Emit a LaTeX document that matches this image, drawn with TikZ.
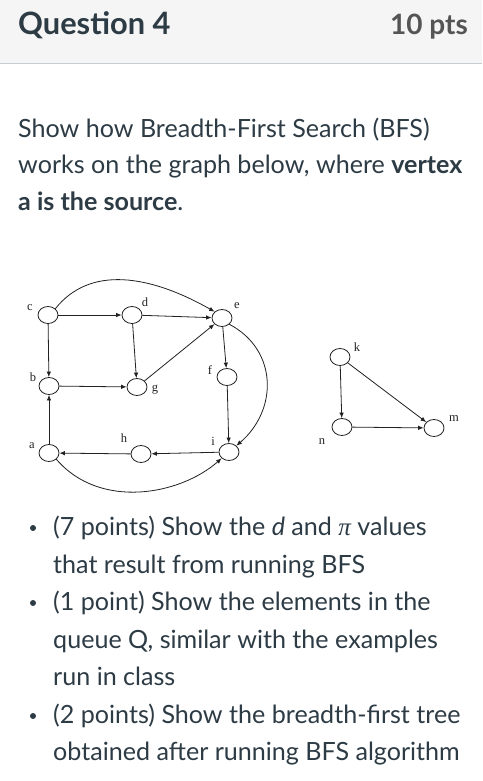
\documentclass[tikz,border=0pt]{standalone}
\usepackage{fontspec}
\setmainfont{Lato}
\newfontfamily\serifg{Liberation Serif}
\usetikzlibrary{shapes.geometric,arrows.meta}
\definecolor{txt}{HTML}{2D3B45}
\definecolor{hdrbg}{HTML}{F5F5F5}
\definecolor{hdrrule}{HTML}{C7CDD1}
\definecolor{pts}{HTML}{555555}
\definecolor{gline}{HTML}{222222}
\tikzset{
  body/.style={anchor=base west, inner sep=0pt, text=txt, font=\fontsize{25.1}{25.1}\selectfont},
  bul/.style={circle, fill=txt, inner sep=0pt, minimum size=6pt},
  vtx/.style={ellipse, draw=gline, line width=0.8pt, minimum width=20pt, minimum height=17pt, inner sep=0pt},
  lbl/.style={inner sep=0pt, text=gline, font=\serifg\fontsize{12.5}{12.5}\selectfont},
  arr/.style={draw=gline, line width=0.8pt, -{Latex[length=5.5pt,width=4.5pt]}}
}
\begin{document}
\begin{tikzpicture}[x=1pt,y=-1pt]
\useasboundingbox (0,0) rectangle (482,781);
\fill[white] (0,0) rectangle (482,781);
\fill[hdrbg] (0,0) rectangle (482,63);
\draw[hdrrule, line width=1.2pt] (0,63.4) -- (482,63.4);
\node[anchor=base west, inner sep=0pt, text=txt, font=\bfseries\fontsize{30.8}{30.8}\selectfont] (q) at (18,35) {Question 4};
\node[anchor=base east, inner sep=0pt, text=pts, font=\bfseries\fontsize{28}{28}\selectfont] (p) at (468,35) {10 pts};

\node[body] (t1) at (18,137) {Show how Breadth-First Search (BFS)};
\node[body] (t2) at (18,173) {works on the graph below, where \textbf{vertex}};
\node[body] (t3) at (18,210) {\textbf{a is the source}.};

% graph
\node[vtx] (c) at (48,315) {};
\node[vtx] (d) at (132,315) {};
\node[vtx] (e) at (222,318) {};
\node[vtx] (b) at (49,386) {};
\node[vtx] (g) at (137,387) {};
\node[vtx] (f) at (227,377) {};
\node[vtx] (a) at (49,453) {};
\node[vtx] (h) at (141,454) {};
\node[vtx] (i) at (229,452) {};
\node[vtx] (k) at (340,357) {};
\node[vtx] (n) at (342,427) {};
\node[vtx] (m) at (434,428) {};

\node[lbl] (lc) at (30,308) {c};
\node[lbl] (ld) at (145,302) {d};
\node[lbl] (le) at (237,306) {e};
\node[lbl] (lb) at (33,377) {b};
\node[lbl] (lg) at (155,390) {g};
\node[lbl] (lf) at (210,370) {f};
\node[lbl] (la) at (32,446) {a};
\node[lbl] (lh) at (124,438) {h};
\node[lbl] (li) at (213,441) {i};
\node[lbl] (lk) at (357,347) {k};
\node[lbl] (lm) at (454,419) {m};
\node[lbl] (ln) at (322,442) {n};

\draw[arr] (c) -- (d);
\draw[arr] (d) -- (e);
\draw[arr] (c) -- (b);
\draw[arr] (d) -- (g);
\draw[arr] (b) -- (g);
\draw[arr] (g) -- (e);
\draw[arr] (e) -- (f);
\draw[arr] (f) -- (i);
\draw[arr] (i) -- (h);
\draw[arr] (h) -- (a);
\draw[arr] (a) -- (b);
\draw[arr] (c.north east) .. controls (90,265) and (150,275) .. (e.north west);
\draw[arr] (e.south east) .. controls (278,350) and (278,410) .. (i.north east);
\draw[arr] (a.south east) .. controls (100,510) and (180,495) .. (i.south west);
\draw[arr] (k) -- (n);
\draw[arr] (k) -- (m);
\draw[arr] (n) -- (m);

% bullets
\node[bul] (b1) at (33,528) {};
\node[body] (u1) at (53,535) {(7 points) Show the \textit{d} and {\serifg\itshape π} values};
\node[body] (u2) at (53,573) {that result from running BFS};
\node[bul] (b2) at (33,603) {};
\node[body] (u3) at (53,610) {(1 point) Show the elements in the};
\node[body] (u4) at (53,648) {queue Q, similar with the examples};
\node[body] (u5) at (53,685) {run in class};
\node[bul] (b3) at (33,716) {};
\node[body] (u6) at (53,723) {(2 points) Show the breadth-first tree};
\node[body] (u7) at (53,760) {obtained after running BFS algorithm};
\end{tikzpicture}
\end{document}
